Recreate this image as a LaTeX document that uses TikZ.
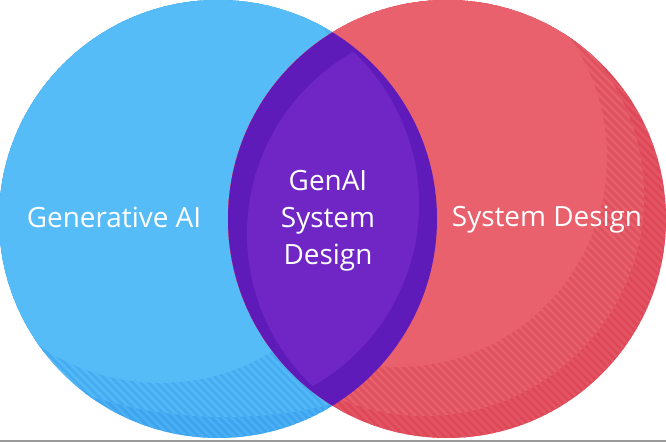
\documentclass[tikz,border=0pt]{standalone}
\usepackage{fontspec}
\setmainfont{Open Sans}
\definecolor{blueBase}{HTML}{56BCF7}
\definecolor{blueLight}{HTML}{53B8F6}
\definecolor{blueLightStripe}{HTML}{46ACF2}
\definecolor{blueDark}{HTML}{3DA5EF}
\definecolor{blueDarkStripe}{HTML}{4AAFF3}
\definecolor{redBase}{HTML}{E8616C}
\definecolor{redLight}{HTML}{E7606B}
\definecolor{redLightStripe}{HTML}{DF515F}
\definecolor{redDark}{HTML}{DE4757}
\definecolor{redDarkStripe}{HTML}{E45563}
\definecolor{lensDark}{HTML}{5F1BB9}
\definecolor{lensLight}{HTML}{7026C5}
\definecolor{baseLine}{HTML}{9A9A9A}
\tikzset{
  lbl/.style={text=white, inner sep=0pt, font=\fontsize{28}{37}\selectfont},
  stripe/.style={line width=2.8bp}
}
\begin{document}
\begin{tikzpicture}[x=1bp,y=-1bp]
\useasboundingbox (0,0) rectangle (666,442);
\fill[white] (0,0) rectangle (666,442);
% ---------- left circle ----------
\begin{scope}
  \clip (218,219) circle[radius=219];
  \fill[blueDark] (0,0) rectangle (440,442);
  \foreach \k in {-450,-442,...,450} \draw[stripe,blueDarkStripe] (\k,0) -- ++(442,442);
  \begin{scope}
    \clip (225,-28) circle[radius=445];
    \fill[blueLight] (0,0) rectangle (440,442);
    \foreach \k in {-450,-442,...,450} \draw[stripe,blueLightStripe] (\k,0) -- ++(442,442);
  \end{scope}
  \fill[blueBase] (160,168) circle[radius=215];
\end{scope}
% ---------- right circle ----------
\begin{scope}
  \clip (447,219) circle[radius=219];
  \fill[redDark] (226,0) rectangle (666,442);
  \foreach \k in {-220,-212,...,670} \draw[stripe,redDarkStripe] (\k,0) -- ++(442,442);
  \begin{scope}
    \clip (424,196) circle[radius=220];
    \fill[redLight] (226,0) rectangle (666,442);
    \foreach \k in {-220,-212,...,670} \draw[stripe,redLightStripe] (\k,0) -- ++(442,442);
  \end{scope}
  \fill[redBase] (397,157) circle[radius=210];
\end{scope}
% ---------- lens ----------
\begin{scope}
  \clip (218,219) circle[radius=219];
  \clip (447,219) circle[radius=219];
  \fill[lensDark] (200,0) rectangle (460,442);
  \clip (456,234) circle[radius=209];
  \fill[lensLight] (210,204) circle[radius=209];
\end{scope}
% ---------- bottom rule ----------
\fill[baseLine] (0,440) rectangle (666,442);
% ---------- labels ----------
\node[lbl, anchor=base] (gen) at (114,228) {Generative AI};
\node[lbl, anchor=base] (sys) at (547,227) {System Design};
\node[lbl, anchor=north, align=center] (mid) at (328,170) {GenAI\\System\\Design};
\end{tikzpicture}
\end{document}
